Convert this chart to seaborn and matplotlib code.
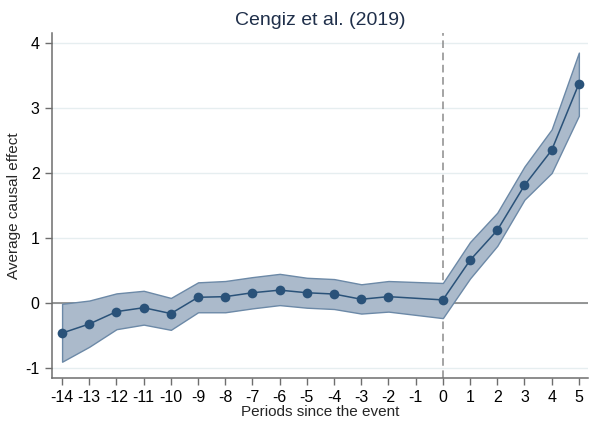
import pandas as pd
import seaborn as sns
import matplotlib.pyplot as plt

periods = [-14, -13, -12, -11, -10, -9, -8, -7, -6, -5, -4, -3, -2, 0, 1, 2, 3, 4, 5]
estimate = [-0.46, -0.32, -0.13, -0.07, -0.16, 0.09, 0.10, 0.16, 0.20, 0.16, 0.14, 0.06, 0.10,
            0.05, 0.66, 1.12, 1.81, 2.35, 3.37]
ci_upper = [-0.01, 0.04, 0.15, 0.19, 0.08, 0.32, 0.34, 0.40, 0.45, 0.39, 0.37, 0.29, 0.34,
            0.31, 0.94, 1.39, 2.10, 2.67, 3.85]
ci_lower = [-0.90, -0.67, -0.40, -0.33, -0.41, -0.14, -0.14, -0.08, -0.03, -0.07, -0.09, -0.16, -0.13,
            -0.23, 0.38, 0.88, 1.59, 2.00, 2.88]
x_ticks = list(range(-14, 6))
y_ticks = [-1, 0, 1, 2, 3, 4]

df = pd.DataFrame({'period': periods, 'est': estimate, 'lo': ci_lower, 'hi': ci_upper})

sns.set_style('white')
plt.rcParams['font.family'] = ['Liberation Sans', 'DejaVu Sans']

fig = plt.figure(figsize=(5.98, 4.24), dpi=100)
ax = fig.add_axes([0.087, 0.1085, 0.896, 0.8135])

for yv in y_ticks:
    ax.axhline(yv, color='#e6eef0', lw=1, zorder=0)
ax.axhline(0, color='#7a7a7a', lw=1.1, zorder=1)
ax.axvline(0, color='#8c8c8c', lw=1.1, ls=(0, (5, 3)), zorder=1)

ax.fill_between(df['period'], df['lo'], df['hi'], facecolor='#abbacb',
                edgecolor='#6c89a7', lw=1, zorder=2)
sns.lineplot(data=df, x='period', y='est', ax=ax, color='#2a5279', lw=1.1,
             marker='o', markersize=7, markeredgewidth=0, zorder=3)

ax.set_xlim(-14.37, 5.33)
ax.set_ylim(-1.15, 4.15)
ax.set_xticks(x_ticks)
ax.set_yticks(y_ticks)
ax.set_yticklabels([str(v) for v in y_ticks])
ax.set_xticklabels([str(v) for v in x_ticks])

for side in ['top', 'right']:
    ax.spines[side].set_visible(False)
for side in ['left', 'bottom']:
    ax.spines[side].set_color('#6e6e6e')
    ax.spines[side].set_linewidth(1.1)

ax.tick_params(axis='both', direction='out', length=5, width=1, color='#6e6e6e',
               labelsize=11.5, labelcolor='black', pad=4, left=True, bottom=True)

ax.set_title('Cengiz et al. (2019)', fontsize=14, color='#1f2f4a', pad=6)
ax.set_xlabel('Periods since the event', fontsize=11, labelpad=0)
ax.set_ylabel('Average causal effect', fontsize=11, labelpad=3)

fig.savefig('out.png', dpi=100)
